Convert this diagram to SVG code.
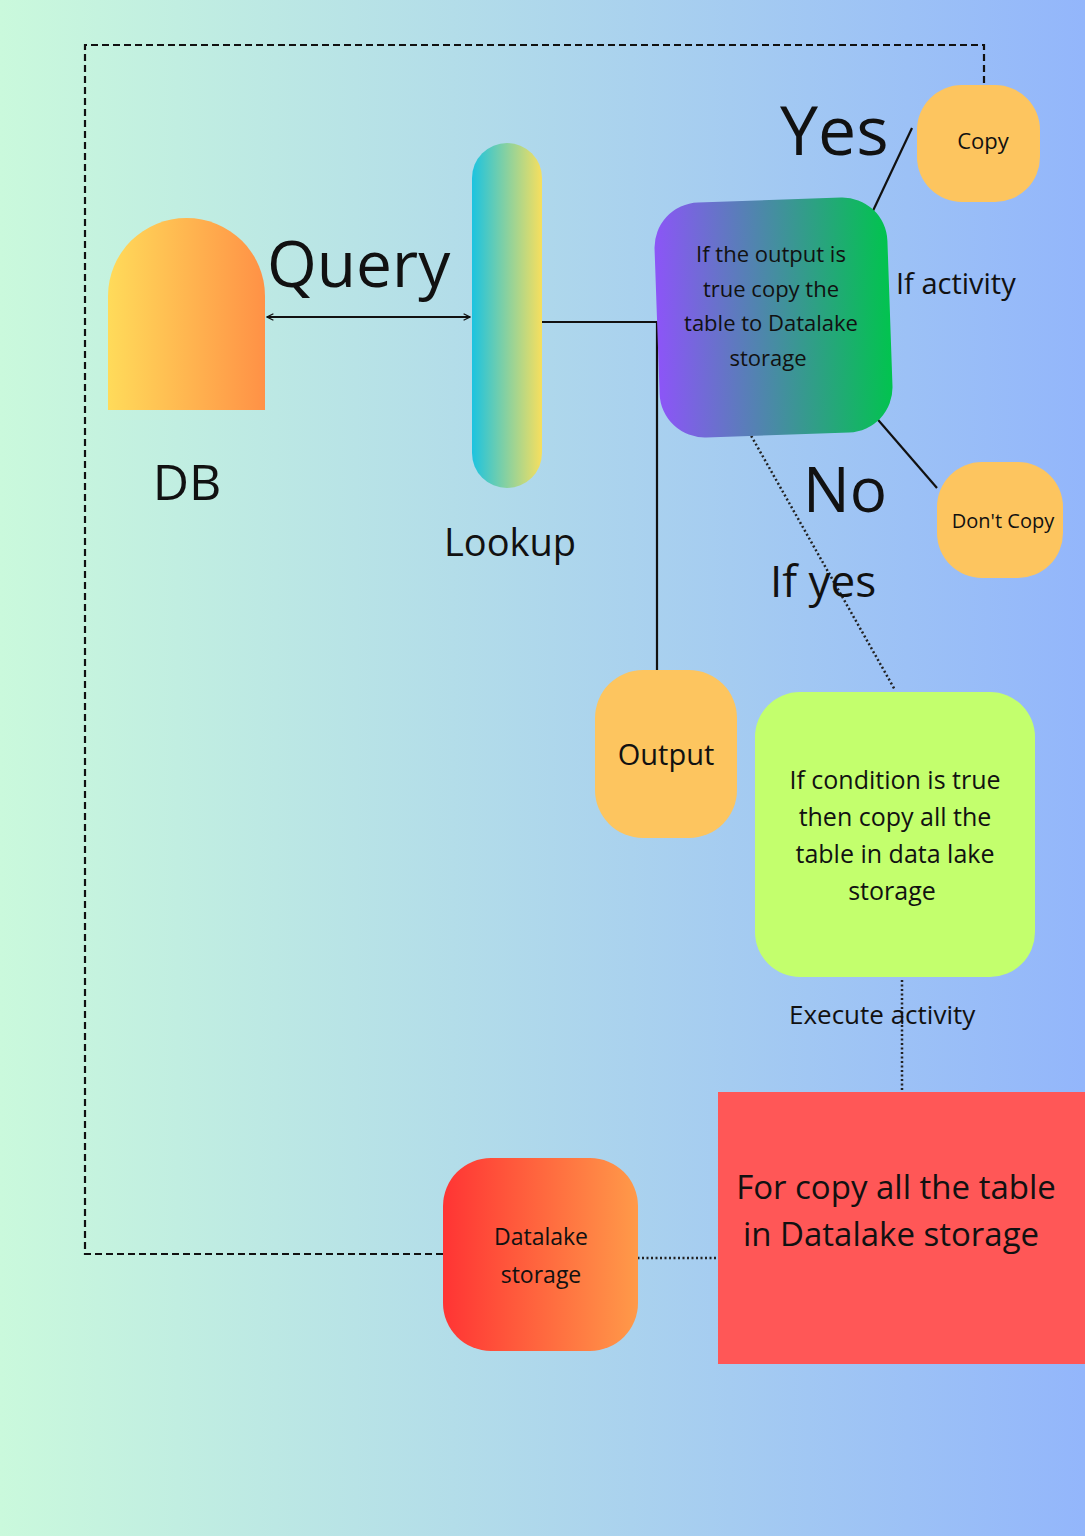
<svg xmlns="http://www.w3.org/2000/svg" width="1085" height="1536" viewBox="0 0 1085 1536">
<defs>
<linearGradient id="bg" x1="0" y1="0" x2="1" y2="0"><stop offset="0" stop-color="#caf9dc"/><stop offset="1" stop-color="#93b6fb"/></linearGradient>
<linearGradient id="db" x1="0" y1="0" x2="1" y2="0"><stop offset="0" stop-color="#ffdb5a"/><stop offset="1" stop-color="#ff9146"/></linearGradient>
<linearGradient id="lk" x1="0" y1="0" x2="1" y2="0"><stop offset="0" stop-color="#1cc3e0"/><stop offset="1" stop-color="#f7df5e"/></linearGradient>
<linearGradient id="pg" x1="0" y1="0" x2="1" y2="0"><stop offset="0" stop-color="#8c55f7"/><stop offset="1" stop-color="#02c34f"/></linearGradient>
<linearGradient id="dl" x1="0" y1="0" x2="1" y2="0"><stop offset="0" stop-color="#ff3434"/><stop offset="1" stop-color="#ff9a49"/></linearGradient>
<marker id="ah" viewBox="0 0 10 10" refX="9" refY="5" markerWidth="8" markerHeight="8" orient="auto-start-reverse" markerUnits="userSpaceOnUse"><path d="M1,1 L9,5 L1,9" fill="none" stroke="#111" stroke-width="1.6"/></marker>
<style>
text{font-family:"Open Sans","Noto Sans","DejaVu Sans",sans-serif;fill:#111}
.c{text-anchor:middle}
.ln{stroke:#111;stroke-width:2.2;fill:none}
.dot{stroke:#222;stroke-width:2.5;fill:none;stroke-dasharray:2 2.5}
.dash{stroke:#111;stroke-width:2.2;fill:none;stroke-dasharray:7 4}
</style>
</defs>
<rect width="1085" height="1536" fill="url(#bg)"/>
<g id="connectors">
<path class="dash" d="M443,1254 H85 V45 H984 V118"/>
<line class="ln" x1="267" y1="317" x2="470" y2="317" marker-start="url(#ah)" marker-end="url(#ah)"/>
<path class="ln" d="M542,322 H657 V670"/>
<line class="ln" x1="871" y1="215" x2="912" y2="128"/>
<line class="ln" x1="873" y1="414" x2="937" y2="488"/>
<line class="dot" x1="749" y1="432" x2="895" y2="690"/>
<line class="dot" x1="902" y1="980" x2="902" y2="1090"/>
<line class="dot" x1="615" y1="1258" x2="718" y2="1258"/>
</g>
<g id="labels">
<text x="780" y="155" font-size="68">Yes</text>
<text x="267" y="287" font-size="64">Query</text>
<text x="803" y="512" font-size="62">No</text>
<text x="770" y="597" font-size="44">If yes</text>
<text x="896" y="294" font-size="29">If activity</text>
<text x="789" y="1024" font-size="26">Execute activity</text>
</g>
<g id="db-node">
<path d="M108,410 V296 A78.5,78 0 0 1 265,296 V410 Z" fill="url(#db)"/>
<text x="187" y="500" class="c" font-size="50">DB</text>
</g>
<g id="lookup">
<rect x="472" y="143" width="70" height="345" rx="35" fill="url(#lk)"/>
<text x="510" y="556" class="c" font-size="38">Lookup</text>
</g>
<g id="if-node">
<rect x="657" y="200" width="233" height="235" rx="45" fill="url(#pg)" transform="rotate(-2 773 317)"/>
<text class="c" font-size="22" x="771" y="262">If the output is</text>
<text class="c" font-size="22" x="771" y="297">true copy the</text>
<text class="c" font-size="22" x="771" y="331">table to Datalake</text>
<text class="c" font-size="22" x="768" y="366">storage</text>
</g>
<g id="copy">
<rect x="917" y="85" width="123" height="117" rx="45" fill="#fdc55f"/>
<text x="983" y="149" class="c" font-size="22">Copy</text>
</g>
<g id="dont-copy">
<rect x="937" y="462" width="126" height="116" rx="45" fill="#fdc55f"/>
<text x="1003" y="528" class="c" font-size="20">Don't Copy</text>
</g>
<g id="output">
<rect x="595" y="670" width="142" height="168" rx="48" fill="#fdc55f"/>
<text x="666" y="765" class="c" font-size="29">Output</text>
</g>
<g id="condition">
<rect x="755" y="692" width="280" height="285" rx="45" fill="#c3ff6d"/>
<text class="c" font-size="25" x="895" y="789">If condition is true</text>
<text class="c" font-size="25" x="895" y="826">then copy all the</text>
<text class="c" font-size="25" x="895" y="863">table in data lake</text>
<text class="c" font-size="25" x="892" y="900">storage</text>
</g>
<g id="copy-all">
<rect x="718" y="1092" width="367" height="272" fill="#ff5757"/>
<text class="c" font-size="33" x="896" y="1199">For copy all the table</text>
<text class="c" font-size="33" x="891" y="1246">in Datalake storage</text>
</g>
<g id="datalake">
<rect x="443" y="1158" width="195" height="193" rx="48" fill="url(#dl)"/>
<text class="c" font-size="23" x="541" y="1245">Datalake</text>
<text class="c" font-size="23" x="541" y="1283">storage</text>
</g>
</svg>
